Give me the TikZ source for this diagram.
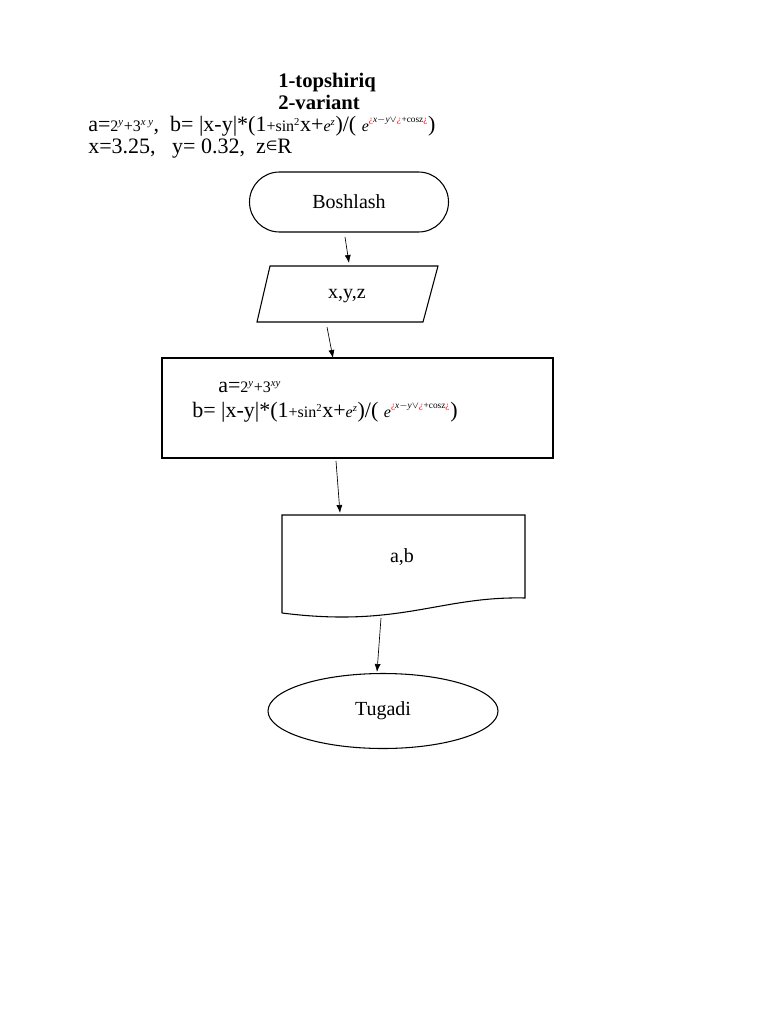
\documentclass[tikz,border=0pt]{standalone}
\usepackage{fontspec}
\setmainfont{Liberation Serif}
\newfontfamily\symfont{DejaVu Sans}
\usepackage{tikz}
\usetikzlibrary{positioning,shapes.geometric,arrows.meta}

\newcommand{\sm}{\fontsize{12}{14}\selectfont}
\newcommand{\redq}{{\color{red}¿}}
\newcommand{\aexpr}[1]{a={\sm 2\textsuperscript{\itshape y}+3\textsuperscript{\itshape #1}}}
\newcommand{\expe}{{\sm\itshape e}\textsuperscript{\fontsize{7}{8}\selectfont\redq\itshape x$-$y$\vee$\redq\upshape+cosz\redq}}
\newcommand{\bexpr}{b= |x-y|*(1{\sm +sin\textsuperscript{2}}x+{\sm\itshape e\textsuperscript{z}})/( \expe)}

\begin{document}
\begin{tikzpicture}[x=0.75pt,y=-0.75pt,
  every node/.style={font=\fontsize{15}{18}\selectfont},
  formula/.style={anchor=base west,inner sep=0pt,font=\fontsize{16.5}{19}\selectfont},
  term/.style={draw,line width=0.8pt,rounded corners=22.5pt,minimum width=149.25pt,minimum height=45pt},
  endbox/.style={draw,ellipse,line width=0.8pt,inner sep=0pt,minimum width=172.5pt,minimum height=56.25pt},
  procbox/.style={draw,line width=1.4pt,minimum width=293.25pt,minimum height=75pt},
  arr/.style={-{Latex[length=6pt,width=4.5pt]},line width=0.5pt}]
  \useasboundingbox (0,0) rectangle (768,1024);

  % header
  \node[anchor=base west,inner sep=0pt,font=\fontsize{15.5}{18}\selectfont\bfseries] (title) at (278,88) {1-topshiriq};
  \node[anchor=base west,inner sep=0pt,font=\fontsize{15.5}{18}\selectfont\bfseries] (variant) at (278,109) {2-variant};
  \node[formula] (task) at (88,131) {\aexpr{x y},\ \ \bexpr};
  \node[formula] (data) at (88,153) {x=3.25,\ \ \ y= 0.32,\ \ z{\symfont\fontsize{10}{12}\selectfont\raisebox{2pt}{∈}}R};

  % flowchart
  \node[term] (start) at (349,202) {Boshlash};
  \draw[line width=0.8pt] (257,322) -- (270,266) -- (438,266) -- (423,322) -- cycle;
  \node (inp) at (347,296) {x,y,z};
  \node[procbox] (proc) at (357.5,408) {};
  \node[formula] (aform) at (218,392) {\aexpr{xy}};
  \node[formula] (bform) at (192,417) {\bexpr};
  \draw[line width=0.8pt] (282,613) -- (282,515) -- (525,515) -- (525,598)
    .. controls (440,596) and (400,628) .. (282,613);
  \node (outp) at (402,557) {a,b};
  \node[endbox] (stop) at (383,711) {Tugadi};

  % connectors
  \coordinate (s1) at (345,237); \coordinate (e1) at (349,263);
  \coordinate (s2) at (327,327); \coordinate (e2) at (333,358);
  \coordinate (s3) at (336,461); \coordinate (e3) at (340,513);
  \coordinate (s4) at (381,618); \coordinate (e4) at (377,672);
  \draw[arr] (s1) -- (e1);
  \draw[arr] (s2) -- (e2);
  \draw[arr] (s3) -- (e3);
  \draw[arr] (s4) -- (e4);
\end{tikzpicture}
\end{document}
